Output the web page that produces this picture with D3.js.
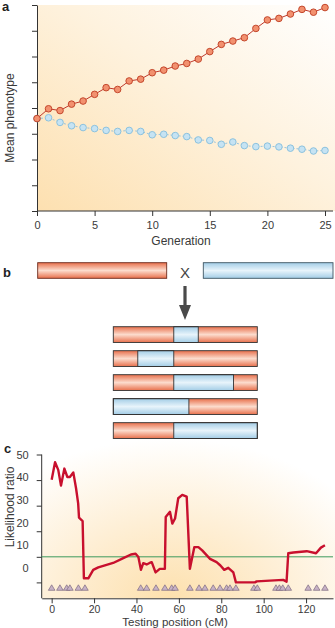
<!DOCTYPE html>
<html><head><meta charset="utf-8">
<script src="https://cdn.jsdelivr.net/npm/d3@7"></script>
<style>
html,body{margin:0;padding:0;background:#fff;}
svg{display:block;font-family:"Liberation Sans",Arial,sans-serif;}
</style></head>
<body>
<svg id="chart" width="335" height="628"></svg>
<script>
// ---------- DATA ----------
// Panel a
const generations = d3.range(0, 26);
const selectedUp = [3.59,3.97,3.90,4.15,4.27,4.53,4.79,4.72,5.05,5.12,5.37,5.47,5.63,5.73,5.90,6.19,6.47,6.60,6.73,7.09,7.42,7.48,7.65,7.83,7.72,7.90];
const selectedDown = [3.59,3.62,3.44,3.31,3.24,3.20,3.13,3.09,3.13,3.09,2.96,2.98,2.93,2.89,2.76,2.74,2.59,2.68,2.54,2.50,2.52,2.49,2.44,2.40,2.33,2.35];
const genTicks = [0,5,10,15,20,25];
const phenoTicks = [0,1,2,3,4,5,6,7,8];
// Panel b: blue (donor) segment of each offspring chromosome, as fraction of length
const offspringBlue = [[0.42,0.59],[0.17,0.42],[0.42,0.835],[0,0.525],[0.42,1]];
// Panel c
const lrPos = [0,1.6,3.1,4.4,6,7.4,8.6,10.2,11.5,12.5,12.9,14.6,15.2,17.3,19.6,22,29,33.8,37.4,39.6,40.9,42.1,43.2,44.8,46.4,47.2,49,51,53.4,53.8,55.8,56.9,58.2,59.7,61.6,63.7,65.2,67.3,69.2,71,74.7,77.8,79.6,81.4,83.3,85.7,86.9,95.9,96.7,109.2,110.8,111.6,114,120.3,124.7,127,128.9];
const lrVal = [40.1,47,44,37.9,44.5,41.2,41.2,43,36.8,30.9,25.3,24,1.6,1.6,4.9,5.9,7.6,9.5,10.9,11.2,9.9,4.9,7.5,7,7.7,7.9,3.9,5.3,5.3,25.6,27.6,23,25,32.9,34.2,33.5,5.3,13.8,13.8,12.5,9.2,7.9,6.6,4.9,5.7,3.9,0,0,0.4,1,0.3,11.4,11.7,12.2,11.4,13.6,14.5];
const markerPos = [0,3.9,7.1,8.6,12.6,15.7,42,44.8,49.2,53.4,56.6,58.2,65.2,69.5,72.3,76.2,79.4,82.5,84.1,86.9,95.4,97,105.8,107.4,109,111.6,121,125,128.9];
const threshold = 10;
const lrTicks = [0,10,20,30,40,50];
const posTicks = [0,20,40,60,80,100,120];

// ---------- DRAW ----------
const svg = d3.select("#chart");
const defs = svg.append("defs");
const textCol = "#3a3a3a", axisCol = "#333";

// gradients
const gA = defs.append("linearGradient").attr("id","bgA").attr("x1","0").attr("y1","1").attr("x2","1").attr("y2","0");
gA.append("stop").attr("offset","0").attr("stop-color","#fde0b0");
gA.append("stop").attr("offset","0.55").attr("stop-color","#fef2de");
gA.append("stop").attr("offset","1").attr("stop-color","#ffffff");
const gC = defs.append("radialGradient").attr("id","bgC").attr("gradientUnits","userSpaceOnUse")
  .attr("cx",170).attr("cy",600).attr("r",190).attr("gradientTransform","translate(170,600) scale(1.2,0.85) translate(-170,-600)");
gC.append("stop").attr("offset","0").attr("stop-color","#fde0ad");
gC.append("stop").attr("offset","0.5").attr("stop-color","#feefd6");
gC.append("stop").attr("offset","1").attr("stop-color","#ffffff");
function barGrad(id, edge, mid){
  const g = defs.append("linearGradient").attr("id",id).attr("x1",0).attr("y1",0).attr("x2",0).attr("y2",1);
  g.append("stop").attr("offset","0").attr("stop-color",edge);
  g.append("stop").attr("offset","0.5").attr("stop-color",mid);
  g.append("stop").attr("offset","1").attr("stop-color",edge);
}
barGrad("gRed","#e8704c","#fcdccd");
barGrad("gBlue","#a3cde6","#e8f4fb");

// ===== Panel a =====
const ax = d3.scaleLinear().domain([0,25]).range([37,325]);
const ay = d3.scaleLinear().domain([0,8]).range([211,5]);
svg.append("rect").attr("x",37).attr("y",5).attr("width",298).attr("height",206).attr("fill","url(#bgA)");

const gxA = svg.append("g").attr("transform","translate(0,211)")
  .call(d3.axisBottom(ax).tickValues(genTicks).tickSize(5).tickPadding(5).tickSizeOuter(0));
gxA.select(".domain").attr("d","M37,0H333");
const gyA = svg.append("g").attr("transform","translate(37,0)")
  .call(d3.axisLeft(ay).tickValues(phenoTicks).tickSize(5).tickFormat("").tickSizeOuter(0));
[gxA,gyA].forEach(g=>{
  g.selectAll(".domain,line").attr("stroke",axisCol);
  g.selectAll("text").attr("fill",textCol).attr("font-size",11).attr("font-family","Liberation Sans, Arial, sans-serif");
});
svg.append("text").attr("x",181).attr("y",245).attr("text-anchor","middle").attr("font-size",12).attr("fill",textCol).text("Generation");
svg.append("text").attr("transform","translate(14,118) rotate(-90)").attr("text-anchor","middle").attr("font-size",12).attr("fill",textCol).text("Mean phenotype");
svg.append("text").attr("x",2).attr("y",11).attr("font-size",13).attr("font-weight","bold").attr("fill","#222").text("a");

const lineA = d3.line().x((d,i)=>ax(generations[i])).y(d=>ay(d));
svg.append("path").datum(selectedDown).attr("d",lineA).attr("fill","none").attr("stroke","#98c4dc").attr("stroke-width",1).attr("stroke-dasharray","2,2");
svg.append("path").datum(selectedUp).attr("d",lineA).attr("fill","none").attr("stroke","#c0392b").attr("stroke-width",1);
svg.append("g").selectAll("circle").data(selectedDown).join("circle")
  .attr("cx",(d,i)=>ax(generations[i])).attr("cy",d=>ay(d)).attr("r",3.3)
  .attr("fill","#c6e3f3").attr("stroke","#8cc2de").attr("stroke-width",1);
svg.append("g").selectAll("circle").data(selectedUp).join("circle")
  .attr("cx",(d,i)=>ax(generations[i])).attr("cy",d=>ay(d)).attr("r",3.3)
  .attr("fill","#f2916f").attr("stroke","#c4472c").attr("stroke-width",1);

// ===== Panel b =====
svg.append("text").attr("x",3).attr("y",277).attr("font-size",13).attr("font-weight","bold").attr("fill","#222").text("b");
svg.append("rect").attr("x",37.7).attr("y",262.7).attr("width",129).attr("height",15.6).attr("fill","url(#gRed)").attr("stroke","#6b2a1c").attr("stroke-width",0.9);
svg.append("rect").attr("x",203.3).attr("y",262.7).attr("width",129.7).attr("height",15.6).attr("fill","url(#gBlue)").attr("stroke","#3f5663").attr("stroke-width",0.9);
svg.append("text").attr("x",185).attr("y",278).attr("text-anchor","middle").attr("font-size",15).attr("fill","#444").text("X");
svg.append("path").attr("d","M183.4,286H186.6V305H191L185,320L179,305H183.4Z").attr("fill","#4a4a4a");

const bx = d3.scaleLinear().domain([0,1]).range([113.3,257.3]);
const rowY = d3.scaleBand().domain(d3.range(offspringBlue.length)).range([326.7,438.5]).paddingInner(0.34).paddingOuter(0);
const rows = svg.append("g").selectAll("g").data(offspringBlue).join("g");
rows.append("rect").attr("x",bx(0)).attr("y",(d,i)=>rowY(i)).attr("width",bx(1)-bx(0)).attr("height",rowY.bandwidth()).attr("fill","url(#gRed)");
rows.append("rect").attr("x",d=>bx(d[0])).attr("y",(d,i)=>rowY(i)).attr("width",d=>bx(d[1])-bx(d[0])).attr("height",rowY.bandwidth()).attr("fill","url(#gBlue)");
rows.append("rect").attr("x",d=>bx(d[0])).attr("y",(d,i)=>rowY(i)).attr("width",d=>bx(d[1])-bx(d[0])).attr("height",rowY.bandwidth()).attr("fill","none").attr("stroke","#333").attr("stroke-width",0.9);
rows.append("rect").attr("x",bx(0)).attr("y",(d,i)=>rowY(i)).attr("width",bx(1)-bx(0)).attr("height",rowY.bandwidth()).attr("fill","none").attr("stroke","#333").attr("stroke-width",0.9);

// ===== Panel c =====
const cx = d3.scaleLinear().domain([-4.7,132.7]).range([41.7,333]);
const cy = d3.scaleLinear().domain([0,50]).range([582.4,454.5]);
svg.append("rect").attr("x",41.7).attr("y",440).attr("width",293.3).attr("height",158.3).attr("fill","url(#bgC)");
svg.append("text").attr("x",4).attr("y",453).attr("font-size",13).attr("font-weight","bold").attr("fill","#222").text("c");

const gxC = svg.append("g").attr("transform","translate(0,598.3)")
  .call(d3.axisBottom(cx).tickValues(posTicks).tickSize(5).tickPadding(2.5).tickSizeOuter(0));
const gyC = svg.append("g").attr("transform","translate(41.7,0)")
  .call(d3.axisLeft(cy).tickValues(lrTicks).tickSize(5).tickPadding(8).tickSizeOuter(0));
gyC.select(".domain").attr("d","M0,454.5V598.3");
[gxC,gyC].forEach(g=>{
  g.selectAll(".domain,line").attr("stroke",axisCol);
  g.selectAll("text").attr("fill",textCol).attr("font-size",10.5).attr("font-family","Liberation Sans, Arial, sans-serif");
});
gyC.selectAll("text").attr("font-size",11);
// label drift as in original figure
gyC.selectAll(".tick text").attr("dy",d=>(0.32*12 - (50-d)*0.3)+"px");

svg.append("line").attr("x1",41.7).attr("x2",333).attr("y1",cy(threshold)).attr("y2",cy(threshold)).attr("stroke","#3c9a5c").attr("stroke-width",1);

svg.append("path").datum(lrVal).attr("d",d3.line().x((d,i)=>cx(lrPos[i])).y(d=>cy(d)))
  .attr("fill","none").attr("stroke","#c8102e").attr("stroke-width",2.4).attr("stroke-linejoin","round");

svg.append("g").selectAll("path").data(markerPos).join("path")
  .attr("d",d=>`M${cx(d)-3.3},590.3L${cx(d)},584.8L${cx(d)+3.3},590.3Z`)
  .attr("fill","#c7b2c6").attr("stroke","#7e6a80").attr("stroke-width",0.7);

svg.append("text").attr("x",175).attr("y",626).attr("text-anchor","middle").attr("font-size",11.5).attr("fill",textCol).text("Testing position (cM)");
svg.append("text").attr("transform","translate(14,507) rotate(-90)").attr("text-anchor","middle").attr("font-size",12).attr("fill",textCol).text("Likelihood ratio");
</script>
</body></html>
